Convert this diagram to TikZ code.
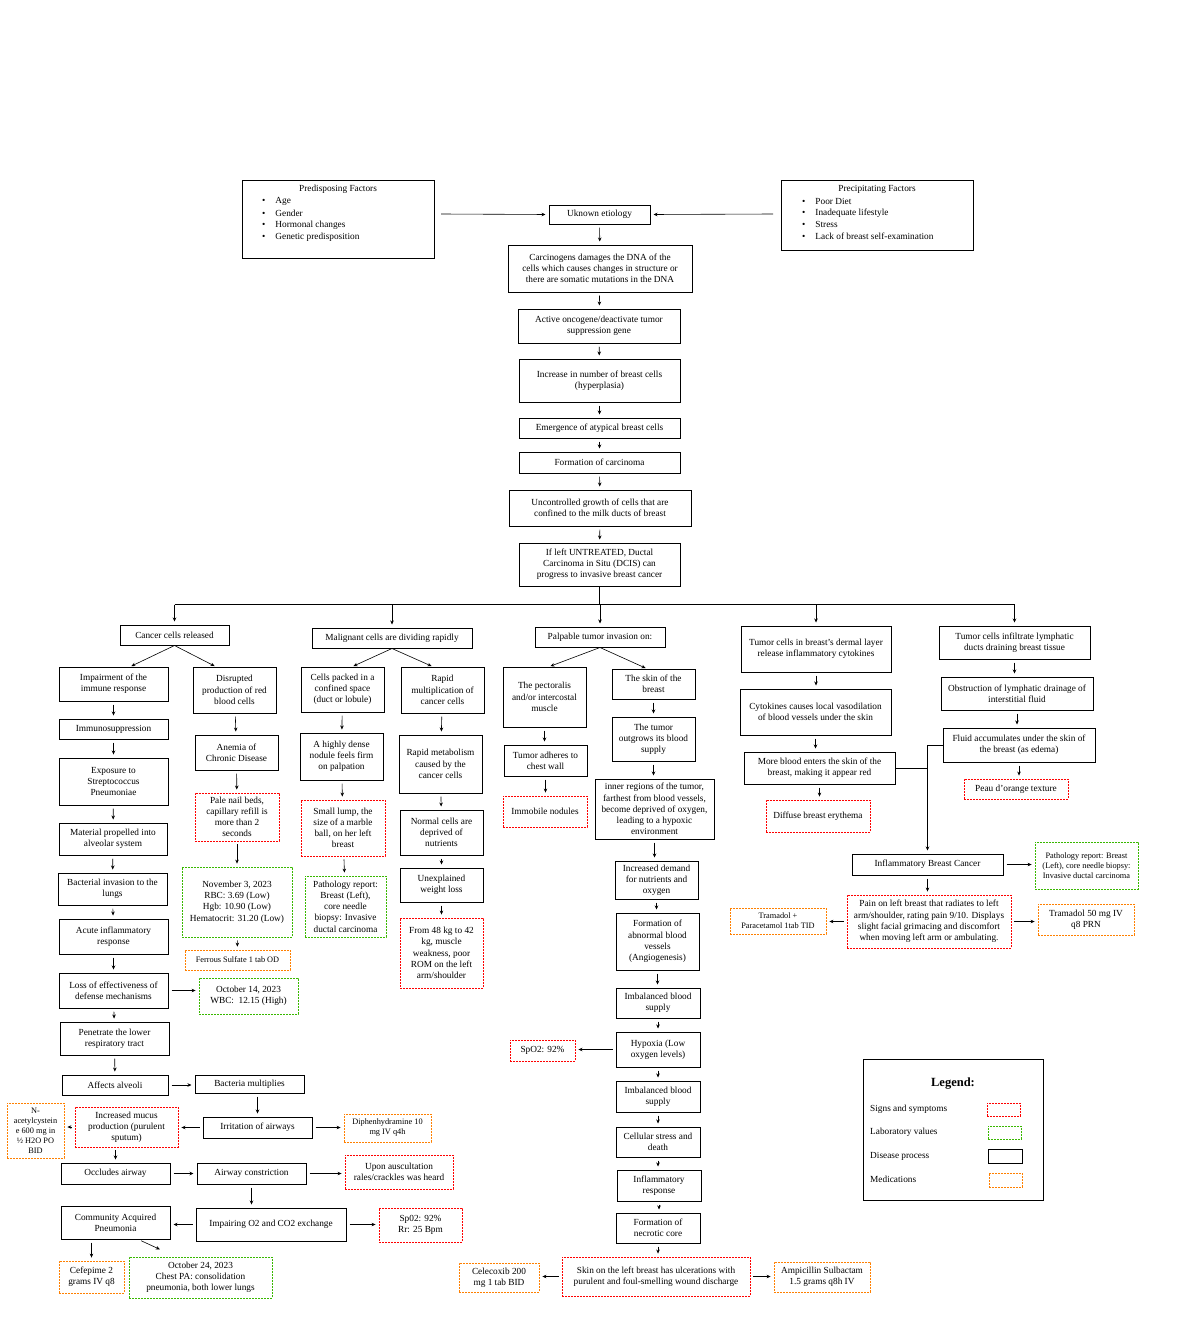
\documentclass[tikz,border=0pt]{standalone}
\usepackage{fontspec}
\setmainfont{Liberation Serif}
\usetikzlibrary{arrows.meta,calc}
\newcommand\B[7]{\pgfmathsetmacro\myBw{#5-#3}\pgfmathsetmacro\myBh{#6-#4}%
\node[#2,minimum width=\myBw pt,minimum height=\myBh pt] (#1) at ({(#3+#5)/2},{(#4+#6)/2}) {#7};}
\tikzset{
 base/.style={draw,align=center,inner sep=1pt,font=\fontsize{9.3}{11.2}\selectfont},
 dis/.style={base,line width=1pt},
 sym/.style={base,draw=red,line width=0.9pt,dash pattern=on 2pt off 1pt},
 lab/.style={base,draw=green!60!black!70!lime,line width=0.8pt,dash pattern=on 2pt off 1pt},
 med/.style={base,draw=orange,line width=0.8pt,dash pattern=on 2pt off 1pt},
 sm/.style={font=\fontsize{8.3}{10}\selectfont},
 arr/.style={-{Stealth[length=4pt,width=3.5pt]},line width=0.6pt,shorten <=3pt,shorten >=3pt},
 ln/.style={line width=0.6pt},
 txt/.style={inner sep=0pt,font=\fontsize{9.3}{11.2}\selectfont,anchor=west}
}
\begin{document}
\begin{tikzpicture}[x=1pt,y=-1pt]
\useasboundingbox[fill=white] (0,0) rectangle (1200,1320);
% top factors
\B{pre}{dis}{242}{180}{434}{258}{}
\node[txt,anchor=center] (pret) at (338,189) {Predisposing Factors};
\foreach \t/\y [count=\i] in {Age/201,Gender/213,Hormonal changes/225,Genetic predisposition/237}
 {\node[txt] (preb\i) at (262,\y) {\textbullet\hspace{10pt}\t};}
\B{prec}{dis}{781}{180}{973}{250}{}
\node[txt,anchor=center] (prect) at (877,189) {Precipitating Factors};
\foreach \t/\y [count=\i] in {Poor Diet/201,Inadequate lifestyle/213,Stress/224,Lack of breast self-examination/236}
 {\node[txt] (precb\i) at (802,\y) {\textbullet\hspace{10pt}\t};}
\B{unk}{dis}{549}{205}{650}{224}{Uknown etiology}
\coordinate (pa) at (441,214); \coordinate (pb) at (773,214);
\draw[arr,shorten <=0pt] (pa) -- (unk.west);
\draw[arr,shorten <=0pt] (pb) -- (unk.east);
\B{carc}{dis}{508}{245}{692}{292}{Carcinogens damages the DNA of the\\cells which causes changes in structure or\\there are somatic mutations in the DNA}
\B{onc}{dis}{518}{309}{680}{343}{Active oncogene/deactivate tumor\\suppression gene}
\B{inc}{dis}{519}{359}{680}{402}{Increase in number of breast cells\\(hyperplasia)}
\B{emerg}{dis}{519}{418}{680}{438}{Emergence of atypical breast cells}
\B{formc}{dis}{519}{452}{680}{473}{Formation of carcinoma}
\B{unc}{dis}{509}{490}{691}{526}{Uncontrolled growth of cells that are\\confined to the milk ducts of breast}
\B{dcis}{dis}{519}{543}{680}{586}{If left UNTREATED, Ductal\\Carcinoma in Situ (DCIS) can\\progress to invasive breast cancer}
\foreach \a/\b in {unk/carc,carc/onc,onc/inc,inc/emerg,emerg/formc,formc/unc,unc/dcis}{\draw[arr] (\a) -- (\b);}
% heads
\B{ccr}{dis}{120}{625}{229}{645}{Cancer cells released}
\B{mal}{dis}{312}{628}{472}{648}{Malignant cells are dividing rapidly}
\B{palp}{dis}{535}{627}{665}{647}{Palpable tumor invasion on:}
\B{tcd}{dis}{741}{626}{891}{672}{Tumor cells in breast's dermal layer\\release inflammatory cytokines}
\B{tci}{dis}{939}{626}{1090}{659}{Tumor cells infiltrate lymphatic\\ducts draining breast tissue}
\draw[ln] (dcis.south) -- ++(0,18) coordinate (br);
\draw[ln] (ccr.north|-br) -- (tci.north|-br);
\foreach \h in {ccr,mal,palp,tcd,tci}{\draw[arr,shorten <=0pt] (\h.north|-br) -- (\h.north);}
% column 1
\B{imp}{dis}{59}{667}{168}{701}{Impairment of the\\immune response}
\B{disr}{dis}{193}{667}{276}{713}{Disrupted\\production of red\\blood cells}
\draw[arr,shorten <=0pt,shorten >=1pt] (ccr.south) -- ([xshift=17pt]imp.north);
\draw[arr,shorten <=0pt,shorten >=1pt] (ccr.south) -- ([xshift=-19pt]disr.north);
\B{immuno}{dis}{59}{719}{168}{739}{Immunosuppression}
\B{expo}{dis}{59}{758}{168}{805}{Exposure to\\Streptococcus\\Pneumoniae}
\B{mat}{dis}{59}{823}{167}{855}{Material propelled into\\alveolar system}
\B{bact}{dis}{58}{873}{167}{905}{Bacterial invasion to the\\lungs}
\B{acute}{dis}{59}{919}{168}{954}{Acute inflammatory\\response}
\B{loss}{dis}{59}{973}{168}{1008}{Loss of effectiveness of\\defense mechanisms}
\B{oct14}{lab}{199}{978}{298}{1014}{October 14, 2023\\WBC:\ \ 12.15 (High)}
\B{pen}{dis}{60}{1022}{169}{1055}{Penetrate the lower\\respiratory tract}
\B{aff}{dis}{62}{1075}{168}{1095}{Affects alveoli}
\B{bmult}{dis}{195}{1075}{304}{1093}{Bacteria multiplies}
\B{irr}{dis}{203}{1117}{312}{1138}{Irritation of airways}
\B{incm}{sym}{75}{1107}{178}{1147}{Increased mucus\\production (purulent\\sputum)}
\B{nac}{med,sm}{7}{1103}{64}{1158}{N-\\acetylcystein\\e 600 mg in\\\textonehalf\ H2O PO\\BID}
\B{diph}{med,sm}{344}{1114}{431}{1142}{Diphenhydramine 10\\mg IV q4h}
\B{occ}{dis}{61}{1163}{170}{1184}{Occludes airway}
\B{airc}{dis}{197}{1163}{306}{1184}{Airway constriction}
\B{ausc}{sym}{345}{1155}{453}{1189}{Upon auscultation\\rales/crackles was heard}
\B{cap}{dis}{61}{1206}{170}{1239}{Community Acquired\\Pneumonia}
\B{impx}{dis}{196}{1208}{346}{1241}{Impairing O2 and CO2 exchange}
\B{spb}{sym}{379}{1208}{462}{1242}{Sp02: 92\%\\Rr: 25 Bpm}
\B{cef}{med}{59}{1261}{124}{1293}{Cefepime 2\\grams IV q8}
\B{oct24}{lab}{129}{1257}{272}{1298}{October 24, 2023\\Chest PA: consolidation\\pneumonia, both lower lungs}
\foreach \a/\b in {imp/immuno,immuno/expo,expo/mat,mat/bact,bact/acute,acute/loss,loss/pen,pen/aff}{\draw[arr] (\a) -- (\b);}
\foreach \a/\b in {bmult/irr,incm/occ,cap/cef}{\draw[arr] (\b.north|-\a.south) -- (\b.north);}
\draw[arr] (airc.south) -- (airc.south|-impx.north);
\foreach \a/\b in {loss/oct14,aff/bmult,occ/airc,airc/ausc,impx/spb}{\draw[arr] (\a.east) -- (\a.east-|\b.west);}
\foreach \a/\b in {irr/incm,incm/nac,impx/cap}{\draw[arr] (\a.west) -- (\a.west-|\b.east);}
\draw[arr] (irr.east) -- (irr.east-|diph.west);
\draw[arr] ([xshift=-32pt]cap.south east) -- ([xshift=34pt,yshift=6pt]oct24.north west);
% column 2
\B{anemia}{dis}{195}{735}{278}{770}{Anemia of\\Chronic Disease}
\B{pale}{sym}{195}{793}{279}{841}{Pale nail beds,\\capillary refill is\\more than 2\\seconds}
\B{nov3}{lab}{182}{867}{292}{937}{November 3, 2023\\RBC: 3.69 (Low)\\Hgb: 10.90 (Low)\\Hematocrit: 31.20 (Low)}
\B{ferr}{med,sm}{185}{950}{290}{970}{Ferrous Sulfate 1 tab OD}
\foreach \a/\b in {disr/anemia,anemia/pale,pale/nov3,nov3/ferr}{\draw[arr] (\a) -- (\b);}
% malignant
\B{cpk}{dis}{301}{667}{384}{712}{Cells packed in a\\confined space\\(duct or lobule)}
\B{rapm}{dis}{401}{667}{484}{713}{Rapid\\multiplication of\\cancer cells}
\draw[arr,shorten <=0pt,shorten >=1pt] (mal.south) -- ([xshift=10pt]cpk.north);
\draw[arr,shorten <=0pt,shorten >=1pt] (mal.south) -- ([xshift=-10pt]rapm.north);
\B{dense}{dis}{300}{733}{383}{780}{A highly dense\\nodule feels firm\\on palpation}
\B{small}{sym}{301}{800}{385}{856}{Small lump, the\\size of a marble\\ball, on her left\\breast}
\B{path1}{lab}{305}{876}{386}{937}{Pathology report:\\Breast (Left),\\core needle\\biopsy: Invasive\\ductal carcinoma}
\B{rmet}{dis}{399}{735}{482}{793}{Rapid metabolism\\caused by the\\cancer cells}
\B{normal}{dis}{400}{810}{483}{855}{Normal cells are\\deprived of\\nutrients}
\B{unexp}{dis}{400}{868}{483}{902}{Unexplained\\weight loss}
\B{from}{sym}{400}{918}{483}{988}{From 48 kg to 42\\kg, muscle\\weakness, poor\\ROM on the left\\arm/shoulder}
\foreach \a/\b in {cpk/dense,dense/small,small/path1,rapm/rmet,rmet/normal,normal/unexp,unexp/from}{\draw[arr] (\a) -- (\b);}
% palpable
\B{pect}{dis}{503}{667}{586}{727}{The pectoralis\\and/or intercostal\\muscle}
\B{skin}{dis}{612}{669}{695}{699}{The skin of the\\breast}
\draw[arr,shorten <=0pt,shorten >=1pt] (palp.south) -- ([xshift=5pt]pect.north);
\draw[arr,shorten <=0pt,shorten >=1pt] (palp.south) -- ([xshift=-7pt]skin.north);
\B{adh}{dis}{504}{745}{587}{776}{Tumor adheres to\\chest wall}
\B{immob}{sym}{503}{796}{587}{827}{Immobile nodules}
\B{tumor}{dis}{612}{717}{695}{761}{The tumor\\outgrows its blood\\supply}
\B{inner}{dis}{595}{779}{714}{839}{inner regions of the tumor,\\farthest from blood vessels,\\become deprived of oxygen,\\leading to a hypoxic\\environment}
\B{incd}{dis}{615}{861}{698}{899}{Increased demand\\for nutrients and\\oxygen}
\B{formab}{dis}{616}{913}{699}{970}{Formation of\\abnormal blood\\vessels\\(Angiogenesis)}
\B{imb1}{dis}{616}{988}{700}{1018}{Imbalanced blood\\supply}
\B{hyp}{dis}{616}{1032}{700}{1067}{Hypoxia (Low\\oxygen levels)}
\B{spo}{sym}{510}{1040}{575}{1061}{SpO2: 92\%}
\B{imb2}{dis}{616}{1081}{700}{1112}{Imbalanced blood\\supply}
\B{cell}{dis}{616}{1127}{700}{1157}{Cellular stress and\\death}
\B{infl}{dis}{617}{1170}{701}{1201}{Inflammatory\\response}
\B{necro}{dis}{616}{1213}{700}{1243}{Formation of\\necrotic core}
\B{skinul}{sym}{562}{1257}{750}{1296}{Skin on the left breast has ulcerations with\\purulent and foul-smelling wound discharge}
\B{cel}{med}{459}{1263}{539}{1292}{Celecoxib 200\\mg 1 tab BID}
\B{amp}{med}{774}{1262}{870}{1292}{Ampicillin Sulbactam\\1.5 grams q8h IV}
\foreach \a/\b in {pect/adh,adh/immob,skin/tumor,tumor/inner,inner/incd,incd/formab,formab/imb1,imb1/hyp,hyp/imb2,imb2/cell,cell/infl,infl/necro,necro/skinul}{\draw[arr] (\a.south) -- (\a.south|-\b.north);}
\draw[arr] (hyp.west) -- (hyp.west-|spo.east);
\draw[arr] (skinul.west) -- (skinul.west-|cel.east);
\draw[arr] (skinul.east) -- (skinul.east-|amp.west);
% dermal
\B{cyto}{dis}{740}{689}{891}{735}{Cytokines causes local vasodilation\\of blood vessels under the skin}
\B{more}{dis}{744}{752}{895}{784}{More blood enters the skin of the\\breast, making it appear red}
\B{diff}{sym}{766}{800}{870}{832}{Diffuse breast erythema}
\B{obst}{dis}{941}{677}{1093}{710}{Obstruction of lymphatic drainage of\\interstitial fluid}
\B{fluid}{dis}{943}{728}{1095}{762}{Fluid accumulates under the skin of\\the breast (as edema)}
\B{peau}{sym}{964}{779}{1068}{799}{Peau d'orange texture}
\B{ibc}{dis}{852}{854}{1003}{875}{Inflammatory Breast Cancer}
\B{path2}{lab,sm}{1035}{842}{1138}{889}{Pathology report: Breast\\(Left), core needle biopsy:\\Invasive ductal carcinoma}
\B{pain}{sym}{847}{895}{1011}{948}{Pain on left breast that radiates to left\\arm/shoulder, rating pain 9/10. Displays\\slight facial grimacing and discomfort\\when moving left arm or ambulating.}
\B{tr1}{med,sm}{730}{908}{826}{934}{Tramadol +\\Paracetamol 1tab TID}
\B{tr2}{med}{1038}{904}{1134}{935}{Tramadol 50 mg IV\\q8 PRN}
\foreach \a/\b in {tcd/cyto,cyto/more,more/diff,tci/obst,obst/fluid,fluid/peau,ibc/pain}{\draw[arr] (\a.south) -- (\a.south|-\b.north);}
\draw[arr] (ibc.east) -- (ibc.east-|path2.west);
\draw[arr] (pain.west) -- (pain.west-|tr1.east);
\draw[arr] (pain.east) -- (pain.east-|tr2.west);
\coordinate (jn) at (ibc.north|-more.east);
\draw[ln] (more.east) -- (jn);
\draw[ln] (fluid.west) -- (ibc.north|-fluid.west) -- (jn);
\draw[arr,shorten <=0pt] (jn) -- (ibc.north);
% legend
\B{leg}{base,line width=1pt}{863}{1059}{1043}{1200}{}
\node[font=\fontsize{12.5}{14}\selectfont\bfseries] (legt) at (953,1084) {Legend:};
\node[txt] (l1) at (870,1109) {Signs and symptoms};
\node[txt] (l2) at (870,1132) {Laboratory values};
\node[txt] (l3) at (870,1156) {Disease process};
\node[txt] (l4) at (870,1179) {Medications};
\B{s1}{sym}{987}{1103}{1020}{1116}{}
\B{s2}{lab}{988}{1126}{1021}{1139}{}
\B{s3}{dis}{988}{1149}{1022}{1163}{}
\B{s4}{med}{989}{1173}{1022}{1187}{}
\end{tikzpicture}
\end{document}
